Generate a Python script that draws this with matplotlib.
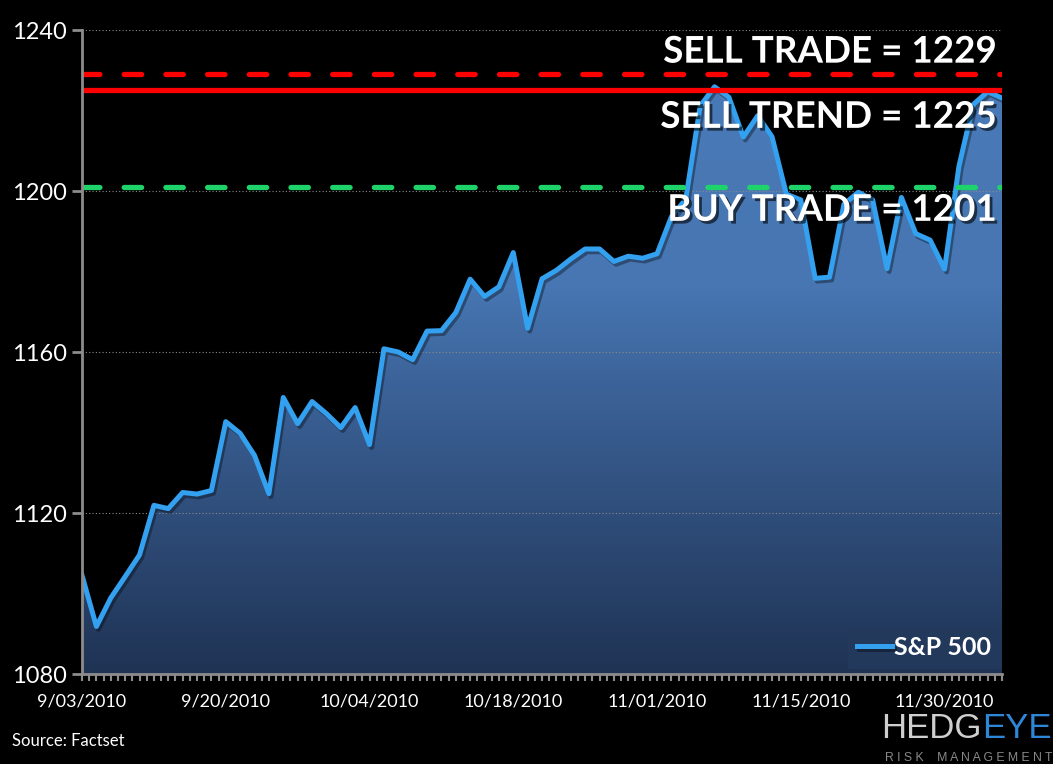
import matplotlib.pyplot as plt
import matplotlib.patheffects as pe
from matplotlib.colors import LinearSegmentedColormap
from matplotlib.ticker import MultipleLocator, FixedLocator
import numpy as np

# S&P 500 daily closes, 9/03/2010 - 12/06/2010
dates = ["9/03", "9/07", "9/08", "9/09", "9/10", "9/13", "9/14", "9/15", "9/16", "9/17",
         "9/20", "9/21", "9/22", "9/23", "9/24", "9/27", "9/28", "9/29", "9/30", "10/01",
         "10/04", "10/05", "10/06", "10/07", "10/08", "10/11", "10/12", "10/13", "10/14", "10/15",
         "10/18", "10/19", "10/20", "10/21", "10/22", "10/25", "10/26", "10/27", "10/28", "10/29",
         "11/01", "11/02", "11/03", "11/04", "11/05", "11/08", "11/09", "11/10", "11/11", "11/12",
         "11/15", "11/16", "11/17", "11/18", "11/19", "11/22", "11/23", "11/24", "11/26", "11/29",
         "11/30", "12/01", "12/02", "12/03", "12/06"]
spx = [1104.5, 1091.8, 1098.9, 1104.2, 1109.6, 1121.9, 1121.1, 1125.1, 1124.7, 1125.6,
       1142.7, 1139.8, 1134.3, 1124.8, 1148.7, 1142.2, 1147.7, 1144.7, 1141.2, 1146.2,
       1137.0, 1160.8, 1160.0, 1158.1, 1165.2, 1165.3, 1169.8, 1178.1, 1173.8, 1176.2,
       1184.7, 1165.9, 1178.2, 1180.3, 1183.1, 1185.6, 1185.6, 1182.5, 1183.8, 1183.3,
       1184.4, 1193.6, 1198.0, 1221.1, 1225.9, 1223.3, 1213.4, 1218.7, 1213.5, 1199.2,
       1197.8, 1178.3, 1178.6, 1196.7, 1199.7, 1197.8, 1180.7, 1198.4, 1189.4, 1187.8,
       1180.6, 1206.1, 1221.5, 1224.7, 1223.1]
tick_labels = ["9/03/2010", "9/20/2010", "10/04/2010", "10/18/2010",
               "11/01/2010", "11/15/2010", "11/30/2010"]
tick_pos = [0, 10, 20, 30, 40, 50, 60]

sell_trade = 1229
sell_trend = 1225
buy_trade = 1201

font = "Lato"
x = np.arange(len(spx))

fig = plt.figure(figsize=(10.53, 7.64), dpi=100, facecolor="black")
ax = fig.add_axes([0.0779, 0.1178, 0.8737, 0.8429], facecolor="black")
ax.set_xlim(0, len(spx) - 1)
ax.set_ylim(1080, 1240)

# gradient area under the line
cmap = LinearSegmentedColormap.from_list(
    "fill", [(0.0, "#1f3354"), (0.45, "#3c6399"), (0.6, "#4776b2"), (1.0, "#4a7ab8")])
grad = np.linspace(0, 1, 256).reshape(-1, 1)
img = ax.imshow(grad, cmap=cmap, origin="lower", aspect="auto",
                extent=[0, len(spx) - 1, 1080, 1240], zorder=1)
poly = ax.fill_between(x, spx, 1080, color="none", zorder=1)
img.set_clip_path(poly.get_paths()[0], transform=ax.transData)

ax.grid(axis="y", color="#8a8a8a", linestyle=(0, (1, 2)), linewidth=0.8, zorder=0.5)

ax.plot(x, spx, color="#33a0f0", lw=3.6, solid_joinstyle="round", zorder=3,
        label="S&P 500",
        path_effects=[pe.SimpleLineShadow(offset=(1.5, -2), shadow_color="black", alpha=0.35),
                      pe.Normal()])

ax.axhline(sell_trade, color="#ff0000", lw=3.8, linestyle=(0, (3.3, 4.6)),
           dash_capstyle="round", zorder=4)
ax.axhline(sell_trend, color="#ff0000", lw=3.8, zorder=4)
ax.axhline(buy_trade, color="#1ed36a", lw=3.8, linestyle=(0, (3.3, 4.6)),
           dash_capstyle="round", zorder=4)

shadow = [pe.withSimplePatchShadow(offset=(2, -2), shadow_rgbFace="black", alpha=0.6)]
for val, txt, yy in [(sell_trade, "SELL TRADE = 1229", 1234.5),
                     (sell_trend, "SELL TREND = 1225", 1218.3),
                     (buy_trade, "BUY TRADE = 1201", 1195.2)]:
    ax.text(63.6, yy, txt, color="white", fontsize=26.5, fontweight="bold", family=font,
            ha="right", va="center", zorder=6, path_effects=shadow)

# axes styling
for s in ["top", "right"]:
    ax.spines[s].set_visible(False)
for s in ["left", "bottom"]:
    ax.spines[s].set_color("#8c8c8c")
    ax.spines[s].set_linewidth(2)
    ax.spines[s].set_zorder(5)

ax.yaxis.set_major_locator(MultipleLocator(40))
ax.tick_params(axis="y", colors="#8c8c8c", length=7, width=2, labelcolor="white",
               labelsize=17, pad=4)
for lab in ax.get_yticklabels():
    lab.set_family(font)

ax.xaxis.set_major_locator(FixedLocator(tick_pos))
ax.set_xticklabels(tick_labels)
ax.xaxis.set_minor_locator(MultipleLocator(0.5))
ax.tick_params(axis="x", which="both", colors="#8c8c8c", length=5, width=1.5,
               labelcolor="white", labelsize=13, pad=9)
for lab in ax.get_xticklabels():
    lab.set_family(font)

leg = ax.legend(loc="lower right", frameon=True, handlelength=1.4,
                handletextpad=0.1, borderpad=0.35, borderaxespad=0,
                bbox_to_anchor=(0.998, 0.01),
                prop={"family": font, "weight": "heavy", "size": 18})
leg.get_frame().set_facecolor("#22395c")
leg.get_frame().set_edgecolor("#22395c")
leg.get_frame().set_alpha(1)
leg.get_frame().set_boxstyle("square", pad=0)
leg.set_zorder(7)
for t in leg.get_texts():
    t.set_color("white")
    t.set_fontweight("bold")

fig.text(0.011, 0.03, "Source: Factset", color="white", fontsize=12, family=font,
         va="center")

# logo
renderer = fig.canvas.get_renderer()
t1 = fig.text(0.837, 0.046, "HEDG", color="#cfcfcf", fontsize=25, family="Liberation Sans",
              va="center")
bb = t1.get_window_extent(renderer).transformed(fig.transFigure.inverted())
fig.text(bb.x1, 0.046, "EYE", color="#2e86d6", fontsize=25, family="Liberation Sans",
         va="center")
fig.text(0.840, 0.008, "R I S K    M A N A G E M E N T", color="#888888", fontsize=8.8,
         family="Liberation Sans", va="center")

fig.savefig("out.png", dpi=100, facecolor="black")
